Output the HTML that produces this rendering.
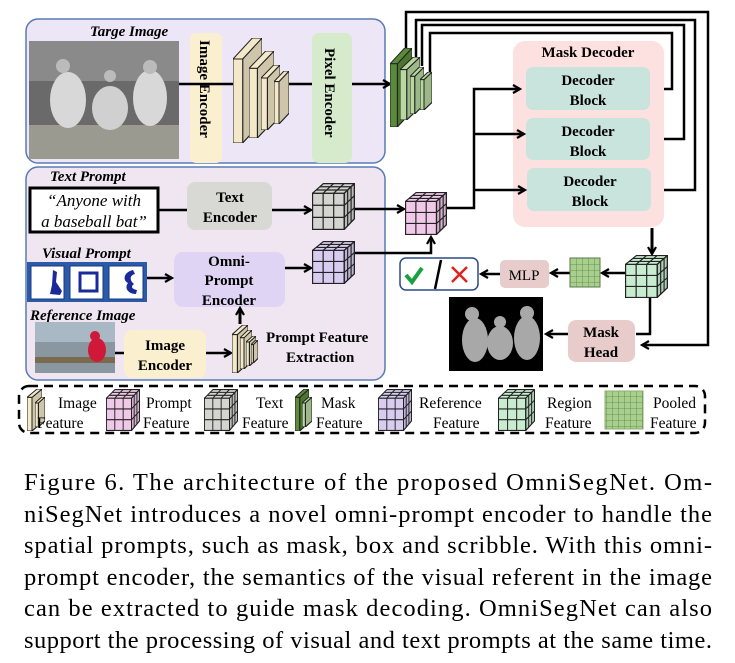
<!DOCTYPE html>
<html><head><meta charset="utf-8"><style>
html,body{margin:0;padding:0;background:#fff}
svg{display:block}
text{font-family:"Liberation Serif",serif}
.b{font-weight:bold;font-size:15px}
.t{font-size:15.5px}
</style></head><body>
<svg width="735" height="663" viewBox="0 0 735 663" xmlns="http://www.w3.org/2000/svg">
<defs>
<marker id="ah" markerWidth="10" markerHeight="10" refX="8" refY="5" orient="auto" markerUnits="userSpaceOnUse">
<path d="M1,1 L8,5 L1,9" fill="none" stroke="#000" stroke-width="2.2"/></marker>
<symbol id="cube" viewBox="0 0 44 46" preserveAspectRatio="none">
<g stroke="#222" stroke-width="1.2">
<rect x="0.6" y="10" width="32.4" height="35.4"/>
<polygon points="0.6,10 11.6,0.6 43.4,0.6 33,10"/>
<polygon points="33,10 43.4,0.6 43.4,35 33,45.4"/>
<polygon points="33,10 43.4,0.6 43.4,35 33,45.4" fill="#000" fill-opacity=".12"/>
<path d="M11.4,10V45.4M22.2,10V45.4M0.6,21.8H33M0.6,33.6H33M4.3,6.9H36.5M8,3.7H40M11.4,10L22,0.6M22.2,10L32.8,0.6M36.5,6.9V41.8M40,3.7V38.6M33,21.8L43.4,12.4M33,33.6L43.4,24.2" fill="none"/>
</g></symbol>
<symbol id="slab" viewBox="0 0 30 100" preserveAspectRatio="none">
<g stroke="#222" stroke-width="1">
<polygon points="10,20 30,0 30,80 10,100" vector-effect="non-scaling-stroke"/>
<polygon points="10,20 30,0 30,80 10,100" fill="#000" fill-opacity=".15" vector-effect="non-scaling-stroke"/>
<polygon points="0,20 10,20 30,0 20,0" vector-effect="non-scaling-stroke"/>
<rect x="0" y="20" width="10" height="80" vector-effect="non-scaling-stroke"/>
</g></symbol>
<pattern id="grid" width="6" height="6" patternUnits="userSpaceOnUse"><rect width="6" height="6" fill="#a8d08c"/><path d="M0,0H6M0,0V6" stroke="#5a7a4a" stroke-width="0.8"/></pattern>
</defs>

<rect x="26" y="19" width="359" height="144" rx="12" fill="#ece6f6" stroke="#5a7ab5" stroke-width="1.5"/>
<text x="90" y="36" font-size="15" font-weight="bold" font-style="italic">Targe Image</text>
<rect x="29" y="41" width="150" height="118" fill="#6a6a6a"/>
<rect x="29" y="41" width="150" height="40" fill="#8a8a8a"/>
<rect x="29" y="125" width="150" height="34" fill="#9a9a90"/>
<ellipse cx="68" cy="100" rx="18" ry="28" fill="#d8d8d8"/><ellipse cx="110" cy="108" rx="18" ry="22" fill="#d0d0d0"/><ellipse cx="150" cy="98" rx="17" ry="28" fill="#d8d8d8"/>
<circle cx="63" cy="66" r="7" fill="#bbb"/><circle cx="110" cy="76" r="6" fill="#bbb"/><circle cx="150" cy="67" r="7" fill="#bbb"/>
<rect x="190" y="33" width="32" height="130" rx="6" fill="#faf0d0"/>
<text transform="translate(200,40) rotate(90)" class="b" font-size="16">Image Encoder</text>
<line x1="179" y1="84" x2="234" y2="84" stroke="#000" stroke-width="2.5"/>
<use href="#slab" x="233" y="38" width="29" height="105" fill="#f3e8c8"/>
<use href="#slab" x="249" y="51" width="25" height="87" fill="#f3e8c8"/>
<use href="#slab" x="261" y="65" width="19" height="65" fill="#f3e8c8"/>
<use href="#slab" x="274" y="71" width="15" height="53" fill="#f3e8c8"/>
<line x1="289" y1="84" x2="312" y2="84" stroke="#000" stroke-width="2.5"/>
<rect x="312" y="33" width="40" height="130" rx="7" fill="#d5ebcc"/>
<text transform="translate(325,48) rotate(90)" class="b" font-size="16">Pixel Encoder</text>
<line x1="352" y1="84" x2="390" y2="84" stroke="#000" stroke-width="2.5" marker-end="url(#ah)"/>

<g fill="none" stroke="#000" stroke-width="2.5">
<path d="M406,50V12H708V345H642" marker-end="url(#ah)"/>
<path d="M416,58V20H695V190H654" marker-end="url(#ah)"/>
<path d="M422,66V25H684V139H654" marker-end="url(#ah)"/>
<path d="M430,74V33H672V89H652" marker-end="url(#ah)"/>
</g>
<use href="#slab" x="390" y="48" width="22" height="79" fill="#5a8a3a"/>
<use href="#slab" x="400" y="57" width="20" height="63" fill="#b8d8a0"/>
<use href="#slab" x="410" y="67" width="14" height="47" fill="#b8d8a0"/>
<use href="#slab" x="420" y="72" width="12" height="38" fill="#b8d8a0"/>

<rect x="26" y="167" width="359" height="213" rx="12" fill="#efe6f2" stroke="#5a7ab5" stroke-width="1.5"/>
<text x="50" y="181" font-size="15" font-weight="bold" font-style="italic">Text Prompt</text>
<rect x="30" y="188" width="128" height="44" fill="#fff" stroke="#000" stroke-width="3"/>
<text x="94" y="206" font-size="17" font-style="italic" text-anchor="middle">“Anyone with</text>
<text x="94" y="227" font-size="17" font-style="italic" text-anchor="middle">a baseball bat”</text>
<line x1="158" y1="210" x2="188" y2="210" stroke="#000" stroke-width="2.5"/>
<rect x="187" y="182" width="85" height="48" rx="8" fill="#d8d8d4"/>
<text x="230" y="202" class="b" text-anchor="middle">Text</text>
<text x="230" y="222" class="b" text-anchor="middle">Encoder</text>
<line x1="272" y1="210" x2="311" y2="210" stroke="#000" stroke-width="2.5" marker-end="url(#ah)"/>
<use href="#cube" x="312" y="183" width="43" height="47" fill="#d4d4d0"/>
<line x1="355" y1="209" x2="404" y2="209" stroke="#000" stroke-width="2.5" marker-end="url(#ah)"/>

<text x="42" y="258" font-size="15" font-weight="bold" font-style="italic">Visual Prompt</text>
<rect x="27" y="262" width="120" height="40" fill="#2a5aa8"/>
<rect x="31" y="266" width="33" height="33" fill="#fff" stroke="#1a3a80" stroke-width="1"/>
<rect x="70" y="266" width="33" height="33" fill="#fff" stroke="#1a3a80" stroke-width="1"/>
<rect x="109" y="266" width="34" height="33" fill="#fff" stroke="#1a3a80" stroke-width="1"/>
<path d="M53,270 L57,272 L56,282 L62,291 L60,295 L50,294 L52,285Z" fill="#1a2a9a"/>
<rect x="80" y="273" width="17" height="18" fill="none" stroke="#1a2a9a" stroke-width="3"/>
<path d="M133,270 C124,272 122,280 128,283 C124,288 128,294 136,294 L137,290 C131,289 131,286 134,284 C129,280 130,275 135,274Z" fill="#1a2a9a"/>
<line x1="147" y1="278" x2="172" y2="278" stroke="#000" stroke-width="2.5" marker-end="url(#ah)"/>
<rect x="174" y="252" width="111" height="55" rx="9" fill="#e0d4f4"/>
<text x="229" y="266" class="b" text-anchor="middle">Omni-</text>
<text x="229" y="285" class="b" text-anchor="middle">Prompt</text>
<text x="229" y="305" class="b" text-anchor="middle">Encoder</text>
<line x1="285" y1="268" x2="311" y2="268" stroke="#000" stroke-width="2.5" marker-end="url(#ah)"/>
<use href="#cube" x="312" y="241" width="43" height="43" fill="#d8ccf0"/>
<path d="M355,253H431V237" fill="none" stroke="#000" stroke-width="2.5" marker-end="url(#ah)"/>
<use href="#cube" x="405" y="192" width="42" height="43" fill="#f0c8e8"/>

<text x="30" y="320" font-size="15" font-weight="bold" font-style="italic">Reference Image</text>
<rect x="35" y="322" width="80" height="51" fill="#8a96a0"/>
<rect x="35" y="322" width="80" height="20" fill="#a8b8c4"/>
<rect x="35" y="357" width="80" height="6" fill="#7a6a50"/>
<ellipse cx="97" cy="350" rx="9" ry="12" fill="#d01838"/><circle cx="95" cy="336" r="5" fill="#d01838"/>
<line x1="115" y1="353" x2="124" y2="353" stroke="#000" stroke-width="2.5"/>
<rect x="124" y="330" width="82" height="48" rx="8" fill="#faf0d0"/>
<text x="165" y="350" class="b" text-anchor="middle">Image</text>
<text x="165" y="370" class="b" text-anchor="middle">Encoder</text>
<line x1="206" y1="353" x2="231" y2="353" stroke="#000" stroke-width="2.5" marker-end="url(#ah)"/>
<use href="#slab" x="232" y="325" width="16" height="48" fill="#f3e8c8"/>
<use href="#slab" x="240" y="330" width="12" height="39" fill="#f3e8c8"/>
<use href="#slab" x="246" y="336" width="10" height="30" fill="#f3e8c8"/>
<use href="#slab" x="251" y="340" width="7" height="23" fill="#f3e8c8"/>
<line x1="240" y1="324" x2="240" y2="308" stroke="#000" stroke-width="3" marker-end="url(#ah)"/>
<text x="266" y="342" class="b">Prompt Feature</text>
<text x="286" y="362" class="b">Extraction</text>

<rect x="513" y="41" width="151" height="186" rx="12" fill="#fde0e0"/>
<text x="588" y="57" class="b" text-anchor="middle">Mask Decoder</text>
<rect x="526" y="67" width="124" height="43" rx="7" fill="#c8e4dc"/>
<rect x="526" y="118" width="124" height="42" rx="7" fill="#c8e4dc"/>
<rect x="527" y="168" width="124" height="43" rx="7" fill="#c8e4dc"/>
<text x="588" y="85" class="b" text-anchor="middle">Decoder</text><text x="588" y="105" class="b" text-anchor="middle">Block</text>
<text x="588" y="136" class="b" text-anchor="middle">Decoder</text><text x="588" y="156" class="b" text-anchor="middle">Block</text>
<text x="590" y="186" class="b" text-anchor="middle">Decoder</text><text x="590" y="206" class="b" text-anchor="middle">Block</text>
<g fill="none" stroke="#000" stroke-width="2.5">
<path d="M447,208H474V89H520" marker-end="url(#ah)"/>
<path d="M474,134H524" marker-end="url(#ah)"/>
<path d="M474,190H525" marker-end="url(#ah)"/>
<path d="M652,228V254" stroke-width="3" marker-end="url(#ah)"/>
<path d="M625,273H602" marker-end="url(#ah)"/>
<path d="M570,273H551" marker-end="url(#ah)"/>
<path d="M500,274H481" marker-end="url(#ah)"/>
<path d="M650,298V334H636"/>
<path d="M568,334H546" marker-end="url(#ah)"/>
</g>
<use href="#cube" x="625" y="255" width="43" height="43" fill="#c8ecd0"/>
<rect x="570" y="258" width="30" height="29" fill="url(#grid)" stroke="#5a7a4a"/>
<rect x="500" y="260" width="49" height="28" rx="5" fill="#e8cccc"/>
<text x="524" y="280" font-size="15" text-anchor="middle">MLP</text>
<rect x="400" y="258" width="78" height="32" rx="6" fill="#fff" stroke="#2a4a8a" stroke-width="1.5"/>
<path d="M406,275 L412,282 L422,268" fill="none" stroke="#1aa040" stroke-width="4"/>
<line x1="435" y1="289" x2="441" y2="260" stroke="#000" stroke-width="2.5"/>
<path d="M452,267L467,282M467,267L452,282" stroke="#e02020" stroke-width="2.5"/>
<rect x="449" y="297" width="94" height="74" fill="#000"/>
<g fill="#a8a8a8"><ellipse cx="475" cy="340" rx="13" ry="22"/><circle cx="472" cy="314" r="7"/><ellipse cx="500" cy="343" rx="13" ry="17"/><circle cx="500" cy="322" r="6"/><ellipse cx="527" cy="338" rx="13" ry="22"/><circle cx="527" cy="313" r="7"/></g>
<rect x="568" y="320" width="67" height="42" rx="8" fill="#e8cccc"/>
<text x="601" y="337" class="b" text-anchor="middle">Mask</text>
<text x="601" y="357" class="b" text-anchor="middle">Head</text>

<rect x="19" y="386" width="686" height="47" rx="10" fill="#fff" stroke="#000" stroke-width="2.5" stroke-dasharray="9,6"/>
<use href="#slab" x="27" y="389" width="15" height="42" fill="#f3e8c8"/>
<use href="#slab" x="35" y="397" width="10" height="30" fill="#f3e8c8"/>
<text x="58" y="408" class="t">Image</text><text x="37" y="428" class="t">Feature</text>
<use href="#cube" x="106" y="389" width="34" height="42" fill="#f0c8e8"/>
<text x="146" y="408" class="t">Prompt</text><text x="143" y="428" class="t">Feature</text>
<use href="#cube" x="204" y="389" width="34" height="42" fill="#d4d4d0"/>
<text x="256" y="408" class="t">Text</text><text x="242" y="428" class="t">Feature</text>
<use href="#slab" x="295" y="389" width="14" height="42" fill="#5a8a3a"/>
<use href="#slab" x="302" y="397" width="10" height="30" fill="#b8d8a0"/>
<text x="321" y="408" class="t">Mask</text><text x="316" y="428" class="t">Feature</text>
<use href="#cube" x="378" y="389" width="34" height="42" fill="#d8ccf0"/>
<text x="419" y="408" class="t">Reference</text><text x="433" y="428" class="t">Feature</text>
<use href="#cube" x="498" y="389" width="37" height="42" fill="#c8ecd0"/>
<text x="547" y="408" class="t">Region</text><text x="545" y="428" class="t">Feature</text>
<rect x="605" y="391" width="38" height="38" fill="url(#grid)" stroke="#8ab070"/>
<text x="653" y="408" class="t">Pooled</text><text x="650" y="428" class="t">Feature</text>

<g font-size="24.5">
<text x="24" y="490" textLength="688" lengthAdjust="spacing">Figure 6.  The architecture of the proposed OmniSegNet.  Om-</text>
<text x="24" y="522" textLength="688" lengthAdjust="spacing">niSegNet introduces a novel omni-prompt encoder to handle the</text>
<text x="24" y="553" textLength="688" lengthAdjust="spacing">spatial prompts, such as mask, box and scribble.  With this omni-</text>
<text x="24" y="585" textLength="688" lengthAdjust="spacing">prompt encoder, the semantics of the visual referent in the image</text>
<text x="24" y="616" textLength="688" lengthAdjust="spacing">can be extracted to guide mask decoding.  OmniSegNet can also</text>
<text x="24" y="648" textLength="688" lengthAdjust="spacing">support the processing of visual and text prompts at the same time.</text>
</g>
</svg>
</body></html>
